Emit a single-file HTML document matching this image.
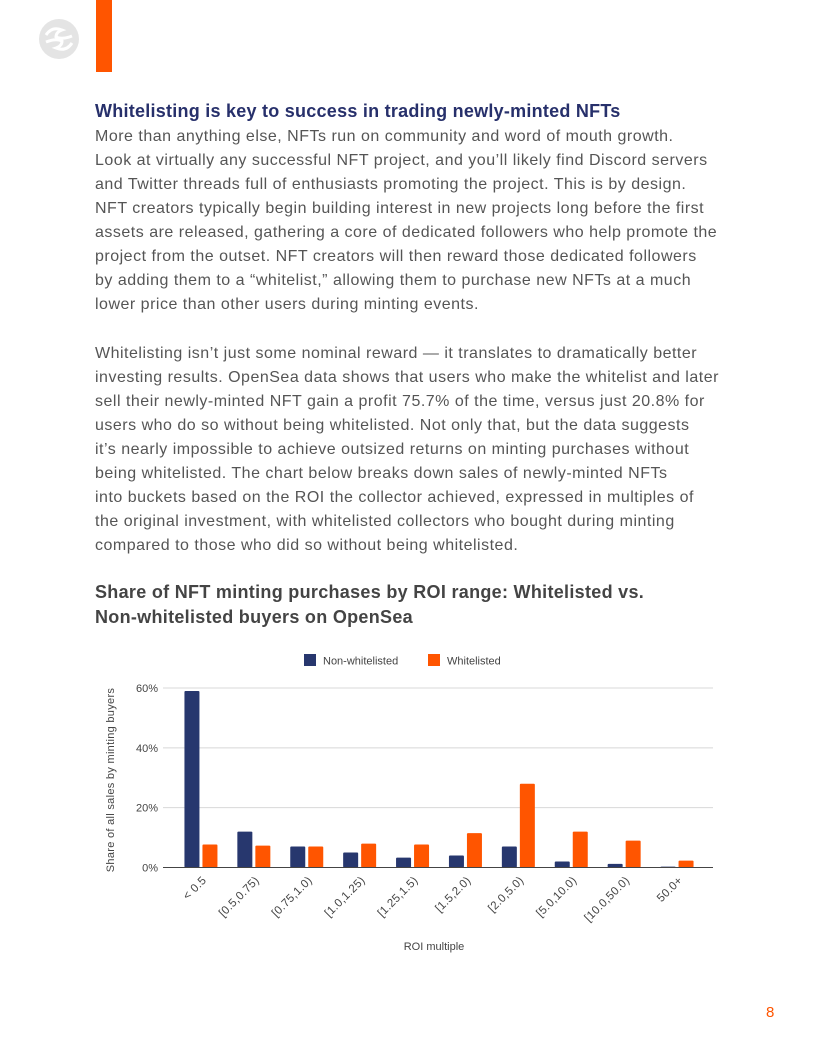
<!DOCTYPE html>
<html><head><meta charset="utf-8"><style>
body{margin:0;width:815px;height:1055px;background:#fff;position:relative;overflow:hidden;font-family:"Liberation Sans",sans-serif}
.t{position:absolute;left:95px;white-space:nowrap}
.b{font-size:16px;color:#555;line-height:24px;letter-spacing:0.5px}
</style></head><body>
<svg style="position:absolute;left:38px;top:18px" width="42" height="42" viewBox="0 0 42 42">
<circle cx="21" cy="21" r="20" fill="#e4e4e4"/>
<path d="M8 17 Q14 8 24 12 Q18 14 18 19 Q24 22 34 18" stroke="#fff" stroke-width="3" fill="none"/>
<path d="M34 25 Q28 34 18 30 Q24 28 24 23 Q18 20 8 24" stroke="#fff" stroke-width="3" fill="none"/>
</svg>
<div style="position:absolute;left:96px;top:0;width:16px;height:72px;background:#ff5500"></div>
<div class="t" style="top:101px;font-size:18px;font-weight:bold;color:#27306b;letter-spacing:0.25px">Whitelisting is key to success in trading newly-minted NFTs</div>
<div class="t b" style="top:125px">More than anything else, NFTs run on community and word of mouth growth.<br>Look at virtually any successful NFT project, and you’ll likely find Discord servers<br>and Twitter threads full of enthusiasts promoting the project. This is by design.<br>NFT creators typically begin building interest in new projects long before the first<br>assets are released, gathering a core of dedicated followers who help promote the<br>project from the outset. NFT creators will then reward those dedicated followers<br>by adding them to a “whitelist,” allowing them to purchase new NFTs at a much<br>lower price than other users during minting events.</div>
<div class="t b" style="top:342px">Whitelisting isn’t just some nominal reward — it translates to dramatically better<br>investing results. OpenSea data shows that users who make the whitelist and later<br>sell their newly-minted NFT gain a profit 75.7% of the time, versus just 20.8% for<br>users who do so without being whitelisted. Not only that, but the data suggests<br>it’s nearly impossible to achieve outsized returns on minting purchases without<br>being whitelisted. The chart below breaks down sales of newly-minted NFTs<br>into buckets based on the ROI the collector achieved, expressed in multiples of<br>the original investment, with whitelisted collectors who bought during minting<br>compared to those who did so without being whitelisted.</div>
<div class="t" style="top:580px;font-size:18px;font-weight:bold;color:#444;line-height:25px;letter-spacing:0.3px">Share of NFT minting purchases by ROI range: Whitelisted vs.<br>Non-whitelisted buyers on OpenSea</div>
<svg id="chart" style="position:absolute;left:0;top:0" width="815" height="1055" font-family="Liberation Sans, sans-serif"></svg>
<div style="position:absolute;left:766px;top:1004px;font-size:15px;color:#ff5500">8</div>
<script>
const categories=["< 0.5","[0.5,0.75)","[0.75,1.0)","[1.0,1.25)","[1.25,1.5)","[1.5,2.0)","[2.0,5.0)","[5.0,10.0)","[10.0,50.0)","50.0+"];
const nonWhitelisted=[59,12,7,5,3.3,4,7,2,1.2,0.3];
const whitelisted=[7.7,7.3,7,8,7.7,11.5,28,12,9,2.3];
const yTicks=[0,20,40,60];
const NS="http://www.w3.org/2000/svg",svg=document.getElementById('chart');
const x0=174.5,x1=703.5,y0=867.5,yTop=688;
const bw=(x1-x0)/categories.length;
const y=v=>y0-(v/60)*(y0-yTop);
const xc=i=>x0+bw*(i+0.5);
function mk(t,a,p){const e=document.createElementNS(NS,t);for(const k in a)e.setAttribute(k,a[k]);(p||svg).appendChild(e);return e;}
yTicks.forEach(v=>{
 const l=mk('line',{x1:163,x2:713,y1:y(v),y2:y(v),stroke:v===0?'#444':'#d8d8d8','stroke-width':1});
 
 
 const t=mk('text',{x:158,y:y(v)+4,'text-anchor':'end','font-size':11,fill:'#444'});
 t.textContent=v+'%';
 
 
});
categories.forEach((c,i)=>{
 const b1=mk('rect',{x:xc(i)-16.5,y:y(nonWhitelisted[i]),width:15,height:y0-y(nonWhitelisted[i]),fill:'#27376e',rx:1});
 
 
 const b2=mk('rect',{x:xc(i)+1.5,y:y(whitelisted[i]),width:15,height:y0-y(whitelisted[i]),fill:'#ff5500',rx:1});
 
 
 const t=mk('text',{x:xc(i)+6,y:881,'text-anchor':'end','font-size':11.5,fill:'#444','letter-spacing':'0.3',transform:`rotate(-45 ${xc(i)+6} 881)`});
 t.textContent=c;
 
 
});
mk('line',{x1:163,x2:713,y1:y0,y2:y0,stroke:'#444'});
const leg=[["Non-whitelisted","#27376e",304],["Whitelisted","#ff5500",428]];
leg.forEach(([n,c,lx])=>{
 const r=mk('rect',{x:lx,y:654,width:12,height:12,fill:c});
 
 
 const t=mk('text',{x:lx+19,y:664.5,'font-size':11,fill:'#444'});
 t.textContent=n;
 
 
});
const yt=mk('text',{x:114,y:780,'text-anchor':'middle','font-size':11,fill:'#444','letter-spacing':'0.3',transform:'rotate(-90 114 780)'});
yt.textContent='Share of all sales by minting buyers';


const xt=mk('text',{x:434,y:950,'text-anchor':'middle','font-size':11,fill:'#444'});
xt.textContent='ROI multiple';


</script>
</body></html>
